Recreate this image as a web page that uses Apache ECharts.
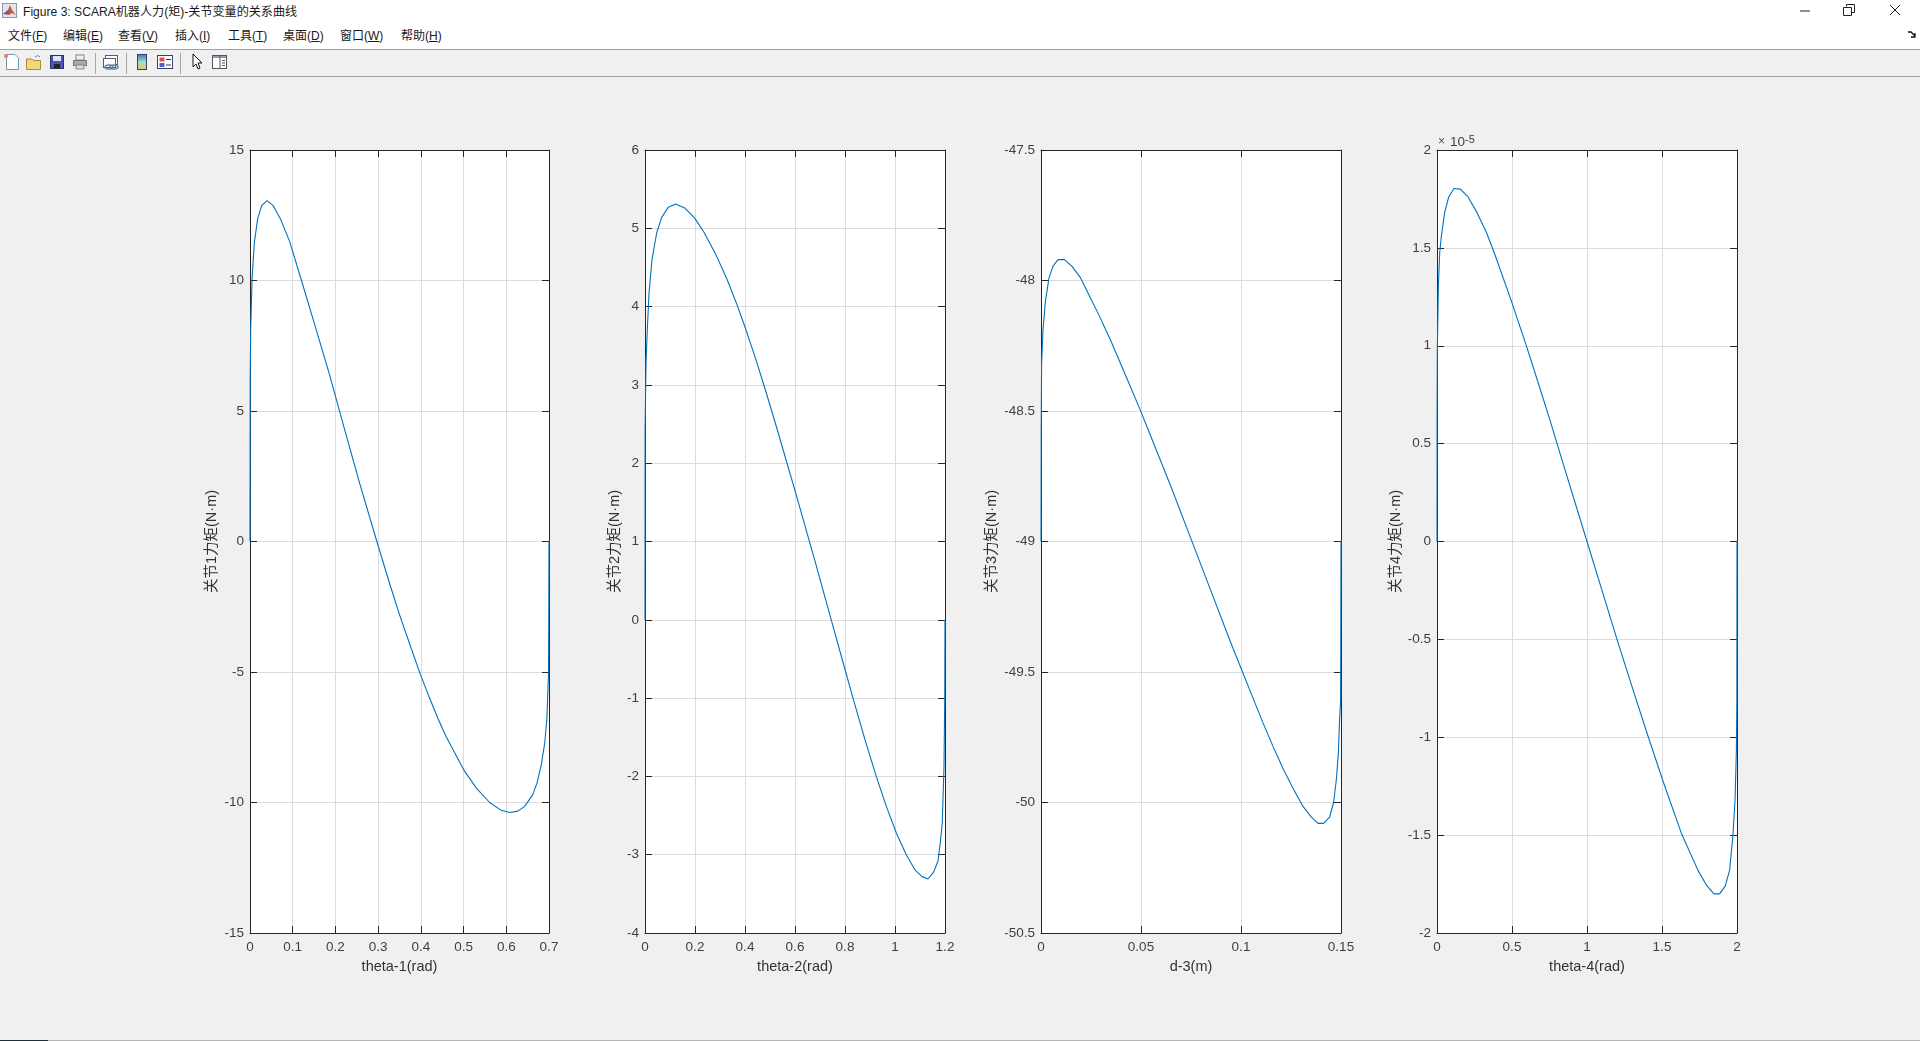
<!DOCTYPE html>
<html>
<head>
<meta charset="utf-8">
<title>Figure 3</title>
<script src="https://cdn.jsdelivr.net/npm/echarts@6/dist/echarts.min.js"></script>
<style>
html,body{margin:0;height:100%;background:#f0f0f0;overflow:hidden;font-family:"Liberation Sans","Noto Sans CJK SC",sans-serif;color:#1a1a1a}
#main{position:absolute;left:0;top:0;width:1920px;height:1041px}
#bar{position:absolute;left:0;top:0;width:1920px;height:49px;background:#fff;border-bottom:1px solid #a0a0a0}
#tools{position:absolute;left:0;top:50px;width:1920px;height:26px;background:#f0f0f0;border-bottom:1px solid #a0a0a0}
#cap{position:absolute;left:23px;top:3px;font-size:12.1px;line-height:18px;white-space:nowrap}
.m{position:absolute;top:28px;font-size:12px;line-height:16px;white-space:nowrap}
.i{position:absolute;top:2px;width:20px;height:20px}
.s{position:absolute;top:3px;width:1px;height:21px;background:#a8a8a8}
#foot{position:absolute;left:0;top:1040px;width:1920px;height:1px;background:#b5b5b5}
#foot div{width:48px;height:1px;background:#1a2f3a}
</style>
</head>
<body>
<div id="main"></div>
<div id="bar">
  <svg style="position:absolute;left:2px;top:3px" width="15" height="15" viewBox="0 0 15 15"><rect x="0.5" y="0.5" width="14" height="14" fill="#dfe6f2" stroke="#8a97ad"/><path d="M1 11 L6 7 L8 2 L10 7 L14 12 L10 10 L7 12 Z" fill="#d9541e"/><path d="M1 11 L6 7 L8 9 L5 11 Z" fill="#3f6fb5"/></svg>
  <div id="cap">Figure 3: SCARA机器人力(矩)-关节变量的关系曲线</div>
  <div class="m" style="left:8px">文件(<u>F</u>)</div>
  <div class="m" style="left:63px">编辑(<u>E</u>)</div>
  <div class="m" style="left:118px">查看(<u>V</u>)</div>
  <div class="m" style="left:175px">插入(<u>I</u>)</div>
  <div class="m" style="left:228px">工具(<u>T</u>)</div>
  <div class="m" style="left:283px">桌面(<u>D</u>)</div>
  <div class="m" style="left:340px">窗口(<u>W</u>)</div>
  <div class="m" style="left:401px">帮助(<u>H</u>)</div>
  <svg style="position:absolute;left:1799px;top:5px" width="12" height="12" viewBox="0 0 12 12"><path d="M1 6 H11" stroke="#222" fill="none"/></svg>
  <svg style="position:absolute;left:1843px;top:4px" width="12" height="12" viewBox="0 0 12 12"><path d="M3.5 2.5 V0.5 H11.5 V8.5 H9 M0.5 3.5 H8.5 V11.5 H0.5 Z" stroke="#222" fill="none"/></svg>
  <svg style="position:absolute;left:1889px;top:4px" width="12" height="12" viewBox="0 0 12 12"><path d="M1 1 L11 11 M11 1 L1 11" stroke="#222" fill="none"/></svg>
  <svg style="position:absolute;left:1908px;top:31px" width="8" height="7" viewBox="0 0 8 7"><path d="M0 1 H3 L7 5 M7 2 V6 H3" stroke="#111" fill="none" stroke-width="1.3"/></svg>
</div>
<div id="tools">
  <svg class="i" style="left:2px" viewBox="0 0 20 20"><path d="M4.5 2.5 H13 L16.5 6 V17.5 H4.5 Z" fill="#fff" stroke="#7c93b8"/><circle cx="4" cy="4" r="2" fill="#e8804a"/></svg>
  <svg class="i" style="left:24px" viewBox="0 0 20 20"><path d="M2.5 7 H8 L9.5 8.5 H16.5 V17.5 H2.5 Z" fill="#f3d679" stroke="#a98c36"/><path d="M11 5 Q14 2 16 5" fill="none" stroke="#5d8bc4"/></svg>
  <svg class="i" style="left:47px" viewBox="0 0 20 20"><rect x="3.5" y="3.5" width="13" height="13" fill="#4a55b0" stroke="#2a2f70"/><rect x="6" y="4" width="8" height="5" fill="#dfe3f5"/><rect x="7" y="12" width="6" height="4" fill="#222"/></svg>
  <svg class="i" style="left:70px" viewBox="0 0 20 20"><rect x="6" y="3" width="8" height="5" fill="#eee" stroke="#888"/><rect x="3.5" y="8.5" width="13" height="5" fill="#a8a8a8" stroke="#777"/><rect x="6" y="13" width="8" height="4" fill="#ddd" stroke="#888"/></svg>
  <div class="s" style="left:95px"></div>
  <svg class="i" style="left:101px" viewBox="0 0 20 20"><rect x="4.5" y="3.5" width="12" height="9" fill="#fff" stroke="#4a5c80"/><rect x="2.5" y="6.5" width="12" height="9" fill="#fff" stroke="#4a5c80"/><ellipse cx="8" cy="15" rx="4" ry="2" fill="none" stroke="#6a7d9c" stroke-width="1.5"/><ellipse cx="13" cy="15" rx="4" ry="2" fill="none" stroke="#6a7d9c" stroke-width="1.5"/></svg>
  <div class="s" style="left:126px"></div>
  <svg class="i" style="left:132px" viewBox="0 0 20 20"><defs><linearGradient id="cb" x1="0" y1="0" x2="0" y2="1"><stop offset="0" stop-color="#4a6fd0"/><stop offset="0.5" stop-color="#9fe0c0"/><stop offset="1" stop-color="#f0c070"/></linearGradient></defs><rect x="5.5" y="2.5" width="9" height="15" fill="url(#cb)" stroke="#34456b"/></svg>
  <svg class="i" style="left:155px" viewBox="0 0 20 20"><rect x="2.5" y="3.5" width="15" height="13" fill="#fff" stroke="#34456b"/><rect x="4.5" y="5.5" width="5" height="4" fill="#d9534f"/><rect x="4.5" y="11" width="5" height="4" fill="#4f5fd0"/><path d="M11 7.5 H16 M11 13 H16" stroke="#333"/></svg>
  <div class="s" style="left:180px"></div>
  <svg class="i" style="left:187px" viewBox="0 0 20 20"><path d="M6 2 L15 11 L11 11 L13 16 L11 17 L9 12 L6 15 Z" fill="#fff" stroke="#111"/></svg>
  <svg class="i" style="left:209px" viewBox="0 0 20 20"><rect x="3.5" y="3.5" width="14" height="13" fill="#fff" stroke="#555"/><rect x="4" y="4" width="13" height="2" fill="#8aa0b8"/><path d="M11 4 V16 M13 8.5 H16 M13 11 H16 M13 13.5 H16" stroke="#555"/></svg>
</div>
<div id="foot"><div></div></div>
<script>
// 各关节曲线数据
var x1 = [0,0.0002,0.0005,0.0016,0.0047,0.0101,0.0179,0.0273,0.0398,0.0538,0.071,0.0928,0.12,0.155,0.186,0.22,0.2566,0.297,0.327,0.35,0.3775,0.399,0.42,0.44,0.459,0.5,0.53,0.561,0.588,0.608,0.627,0.643,0.662,0.672,0.682,0.69,0.695,0.699,0.7];
var y1 = [0,3,6.2,8.1,10.03,11.44,12.36,12.87,13.06,12.88,12.37,11.5,10.03,8.12,6.4,4.38,2.24,0,-1.62,-2.8,-4.1,-5.1,-5.98,-6.78,-7.47,-8.74,-9.45,-10,-10.3,-10.38,-10.33,-10.15,-9.7,-9.25,-8.55,-7.72,-6.8,-5,0];
var x2 = [0,0.0004,0.004,0.0093,0.016,0.028,0.0467,0.0667,0.0933,0.1227,0.1587,0.1987,0.236,0.2827,0.328,0.365,0.4,0.445,0.485,0.528,0.6,0.68,0.745,0.79,0.832,0.879,0.925,0.965,1.005,1.045,1.079,1.108,1.132,1.155,1.172,1.181,1.189,1.196,1.199,1.2];
var y2 = [0,2.43,3.28,3.71,4.17,4.6,4.94,5.14,5.27,5.31,5.26,5.13,4.95,4.67,4.35,4.05,3.74,3.31,2.9,2.44,1.65,0.75,0,-0.52,-1,-1.52,-2,-2.38,-2.72,-3,-3.19,-3.28,-3.31,-3.22,-3.08,-2.85,-2.6,-1.87,-1,0];
var x3 = [0,0.0001,0.0003,0.001,0.0022,0.004,0.006,0.0085,0.0118,0.0155,0.0198,0.0243,0.0285,0.0343,0.041,0.0493,0.0535,0.065,0.075,0.085,0.095,0.106,0.111,0.116,0.121,0.126,0.131,0.1352,0.1385,0.1413,0.1443,0.1463,0.1477,0.1487,0.1493,0.1498,0.15];
var y3 = [-49,-48.57,-48.32,-48.19,-48.08,-47.99,-47.945,-47.92,-47.92,-47.946,-47.99,-48.06,-48.125,-48.22,-48.34,-48.49,-48.57,-48.79,-48.99,-49.19,-49.39,-49.6,-49.695,-49.785,-49.87,-49.945,-50.015,-50.056,-50.08,-50.08,-50.056,-50,-49.91,-49.81,-49.68,-49.61,-49];
var x4 = [0,0.0005,0.002,0.009,0.018,0.029,0.051,0.078,0.113,0.156,0.207,0.267,0.329,0.384,0.496,0.596,0.673,0.751,0.85,1,1.1,1.2,1.329,1.407,1.507,1.629,1.74,1.796,1.847,1.884,1.922,1.951,1.973,1.987,1.996,1.999,2];
var y4 = [0,0.62,0.965,1.3,1.475,1.56,1.68,1.76,1.803,1.8,1.76,1.68,1.58,1.47,1.228,0.999,0.815,0.625,0.375,0,-0.25,-0.5,-0.81,-0.995,-1.225,-1.49,-1.68,-1.755,-1.8,-1.8,-1.759,-1.677,-1.4985,-1.32,-1.065,-0.81,0];

var xNames = ['theta-1(rad)','theta-2(rad)','d-3(m)','theta-4(rad)'];
var yNames = ['关节1力矩(N·m)','关节2力矩(N·m)','关节3力矩(N·m)','关节4力矩(N·m)'];
var xMax = [0.7,1.2,0.15,2];
var xStep = [0.1,0.2,0.05,0.5];
var yMin = [-15,-4,-50.5,-2];
var yMax = [15,6,-47.5,2];
var yStep = [5,1,0.5,0.5];

var lefts = [250,645,1041,1437];
var widths = [299,300,300,300];
var yGaps = [31,23,42,34];
var xs = [x1,x2,x3,x4];
var ys = [y1,y2,y3,y4];

var fontName = '"Liberation Sans","Noto Sans CJK SC",sans-serif';
var inkColor = '#262626';
var grids = [], xAxes = [], yAxes = [], series = [];

for (var i=0;i<4;i++){
    grids.push({left:lefts[i],top:150,width:widths[i],height:783,backgroundColor:'#fff',show:true,borderWidth:0});
    // 下/左 主坐标轴
    xAxes.push({
        type:'value',gridIndex:i,min:0,max:xMax[i],interval:xStep[i],position:'bottom',
        name:xNames[i],nameLocation:'middle',nameGap:27,
        nameTextStyle:{color:'#333',fontSize:14.5,fontFamily:fontName},
        axisLine:{onZero:false,lineStyle:{color:inkColor,width:1}},
        axisTick:{inside:true,length:7,lineStyle:{color:inkColor}},
        axisLabel:{color:'#404040',fontSize:13.5,margin:8,fontFamily:fontName},
        splitLine:{show:true,lineStyle:{color:'#dcdcdc',width:1}}
    });
    yAxes.push({
        type:'value',gridIndex:i,min:yMin[i],max:yMax[i],interval:yStep[i],position:'left',
        name:yNames[i],nameLocation:'middle',nameGap:yGaps[i],
        nameTextStyle:{color:'#333',fontSize:14.5,fontFamily:fontName},
        axisLine:{onZero:false,lineStyle:{color:inkColor,width:1}},
        axisTick:{inside:true,length:7,lineStyle:{color:inkColor}},
        axisLabel:{color:'#404040',fontSize:13.5,margin:6,padding:[7,0,0,0],fontFamily:fontName},
        splitLine:{show:true,lineStyle:{color:'#dcdcdc',width:1}}
    });
    // 上/右 只画边框和刻度
    xAxes.push({
        type:'value',gridIndex:i,min:0,max:xMax[i],interval:xStep[i],position:'top',
        axisLine:{onZero:false,lineStyle:{color:inkColor,width:1}},
        axisTick:{inside:true,length:7,lineStyle:{color:inkColor}},
        axisLabel:{show:false},splitLine:{show:false}
    });
    yAxes.push({
        type:'value',gridIndex:i,min:yMin[i],max:yMax[i],interval:yStep[i],position:'right',
        axisLine:{onZero:false,lineStyle:{color:inkColor,width:1}},
        axisTick:{inside:true,length:7,lineStyle:{color:inkColor}},
        axisLabel:{show:false},splitLine:{show:false}
    });
    var pts = [];
    for (var j=0;j<xs[i].length;j++) pts.push([xs[i][j],ys[i][j]]);
    series.push({
        type:'line',xAxisIndex:i*2,yAxisIndex:i*2,data:pts,symbol:'none',clip:false,
        lineStyle:{color:'#0072BD',width:1.1},silent:true
    });
}

var myChart = echarts.init(document.getElementById('main'));
var option = {
    backgroundColor:'#f0f0f0',
    animation:false,
    // 第4个图的指数标记
    title:{
        text:'{a|×} {b|10}{c|-5}',left:1438,top:133,padding:0,
        textStyle:{fontWeight:'normal',rich:{
            a:{fontSize:12,color:'#555',fontWeight:'normal',fontFamily:fontName},
            b:{fontSize:13.5,color:'#404040',fontWeight:'normal',fontFamily:fontName},
            c:{fontSize:11,color:'#404040',fontWeight:'normal',fontFamily:fontName,verticalAlign:'bottom',padding:[0,0,6,0]}
        }}
    },
    grid:grids,
    xAxis:xAxes,
    yAxis:yAxes,
    series:series
};
myChart.setOption(option);
</script>
</body>
</html>
